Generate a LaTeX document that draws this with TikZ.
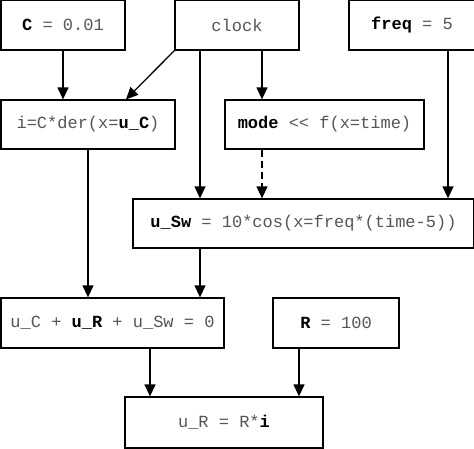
\documentclass[tikz,border=0pt]{standalone}
\usepackage{fontspec}
\setmonofont{Liberation Mono}
\usetikzlibrary{arrows.meta}
\definecolor{txt}{RGB}{85,85,85}
\tikzset{
  box/.style={draw=black, line width=1.3pt, rectangle, inner sep=0pt, text=txt,
    font=\ttfamily\fontsize{17}{20}\selectfont, anchor=center},
  arr/.style={line width=1.3pt, -{Triangle[width=11pt,length=12pt]}},
}
\newcommand{\bx}[1]{\textbf{\color{black}#1}}
\begin{document}
\begin{tikzpicture}[x=1pt,y=-1pt]
\useasboundingbox (0,0) rectangle (474,448);
\node[box, minimum width=124pt, minimum height=50pt] (C) at (63,25) {\bx{C} = 0.01};
\node[box, minimum width=124pt, minimum height=50pt] (clock) at (237,25) {clock};
\node[box, minimum width=126pt, minimum height=50pt] (freq) at (412,25) {\bx{freq} = 5};
\node[box, minimum width=174pt, minimum height=49pt] (i) at (88,124.5) {i=C*der(x=\bx{u\_C})};
\node[box, minimum width=199pt, minimum height=49pt] (mode) at (324.5,124.5) {\bx{mode} << f(x=time)};
\node[box, minimum width=341pt, minimum height=49pt] (usw) at (303.5,223.5) {\bx{u\_Sw} = 10*cos(x=freq*(time-5))};
\node[box, minimum width=223pt, minimum height=50pt] (sum) at (112.5,323) {u\_C + \bx{u\_R} + u\_Sw = 0};
\node[box, minimum width=126pt, minimum height=50pt] (R) at (336,323) {\bx{R} = 100};
\node[box, minimum width=198pt, minimum height=51pt] (ur) at (224,422.5) {u\_R = R*\bx{i}};
\draw[arr] (C.south) -- (C.south |- i.north);
\draw[arr] (clock.south west) -- ([xshift=38pt]i.north);
\draw[arr] ([xshift=-37pt]clock.south) -- ([xshift=-37pt]clock.south |- usw.north);
\draw[arr] ([xshift=25pt]clock.south) -- ([xshift=25pt]clock.south |- mode.north);
\draw[arr, dash pattern=on 7pt off 4pt] ([xshift=25pt]clock.south |- mode.south) -- ([xshift=25pt]clock.south |- usw.north);
\draw[arr] ([xshift=36pt]freq.south) -- ([xshift=36pt]freq.south |- usw.north);
\draw[arr] (i.south) -- (i.south |- sum.north);
\draw[arr] ([xshift=-37pt]clock.south |- usw.south) -- ([xshift=-37pt]clock.south |- sum.north);
\draw[arr] ([xshift=37.5pt]sum.south) -- ([xshift=37.5pt]sum.south |- ur.north);
\draw[arr] ([xshift=-37pt]R.south) -- ([xshift=-37pt]R.south |- ur.north);
\end{tikzpicture}
\end{document}
